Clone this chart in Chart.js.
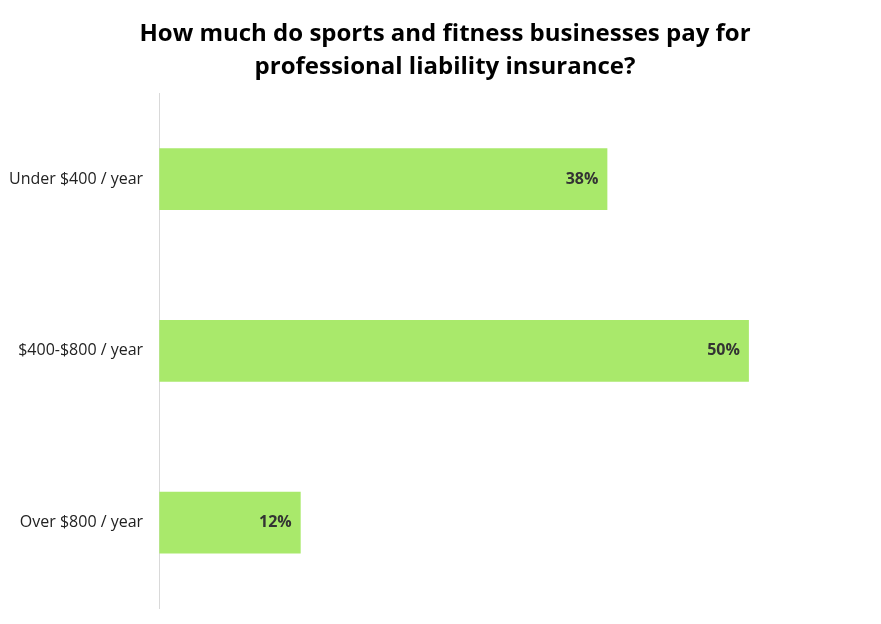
<!DOCTYPE html>
<html>
<head>
<meta charset="utf-8">
<script src="https://cdn.jsdelivr.net/npm/chart.js@4"></script>
<style>
  html, body { margin:0; padding:0; background:#fff; }
  #wrap { width:881px; height:624px; }
</style>
</head>
<body>
<div id="wrap"><canvas id="barChart"></canvas></div>
<script>
// payment ranges and share of businesses (%)
const categories = ['Under $400 / year', '$400-$800 / year', 'Over $800 / year'];
const shares = [38, 50, 12];
const titleLines = ['How much do sports and fitness businesses pay for', 'professional liability insurance?'];

// draws the % value inside the end of each bar
const barLabels = {
  id: 'barLabels',
  afterDatasetsDraw(chart) {
    const { ctx } = chart;
    const meta = chart.getDatasetMeta(0);
    ctx.save();
    ctx.font = 'bold 16px "Open Sans"';
    ctx.fillStyle = '#333';
    ctx.textAlign = 'right';
    ctx.textBaseline = 'middle';
    meta.data.forEach((bar, i) => {
      ctx.fillText(shares[i] + '%', bar.x - 9, bar.y);
    });
    ctx.restore();
  }
};

new Chart(document.getElementById('barChart'), {
  type: 'bar',
  data: {
    labels: categories,
    datasets: [{ data: shares, backgroundColor: '#a9e96b', barPercentage: 0.36, categoryPercentage: 1 }]
  },
  options: {
    indexAxis: 'y',
    responsive: true,
    maintainAspectRatio: false,
    animation: false,
    // negative right padding keeps the title centred on the page
    layout: { padding: { left: 0, right: -9, bottom: 15 } },
    plugins: {
      legend: { display: false },
      tooltip: { enabled: false },
      title: {
        display: true,
        text: titleLines,
        color: '#000',
        font: { family: '"Open Sans"', size: 24, weight: 'bold', lineHeight: 1.4 },
        padding: { top: 17, bottom: 9 }
      }
    },
    scales: {
      x: { display: false, min: 0, max: 61.2 },
      y: {
        grid: { display: false, drawTicks: true, tickLength: 7 },
        border: { color: '#d9d9d9' },
        ticks: { color: '#222', font: { family: '"Open Sans"', size: 16, lineHeight: 0.8 }, padding: 9 }
      }
    }
  },
  plugins: [barLabels]
});
</script>
</body>
</html>
